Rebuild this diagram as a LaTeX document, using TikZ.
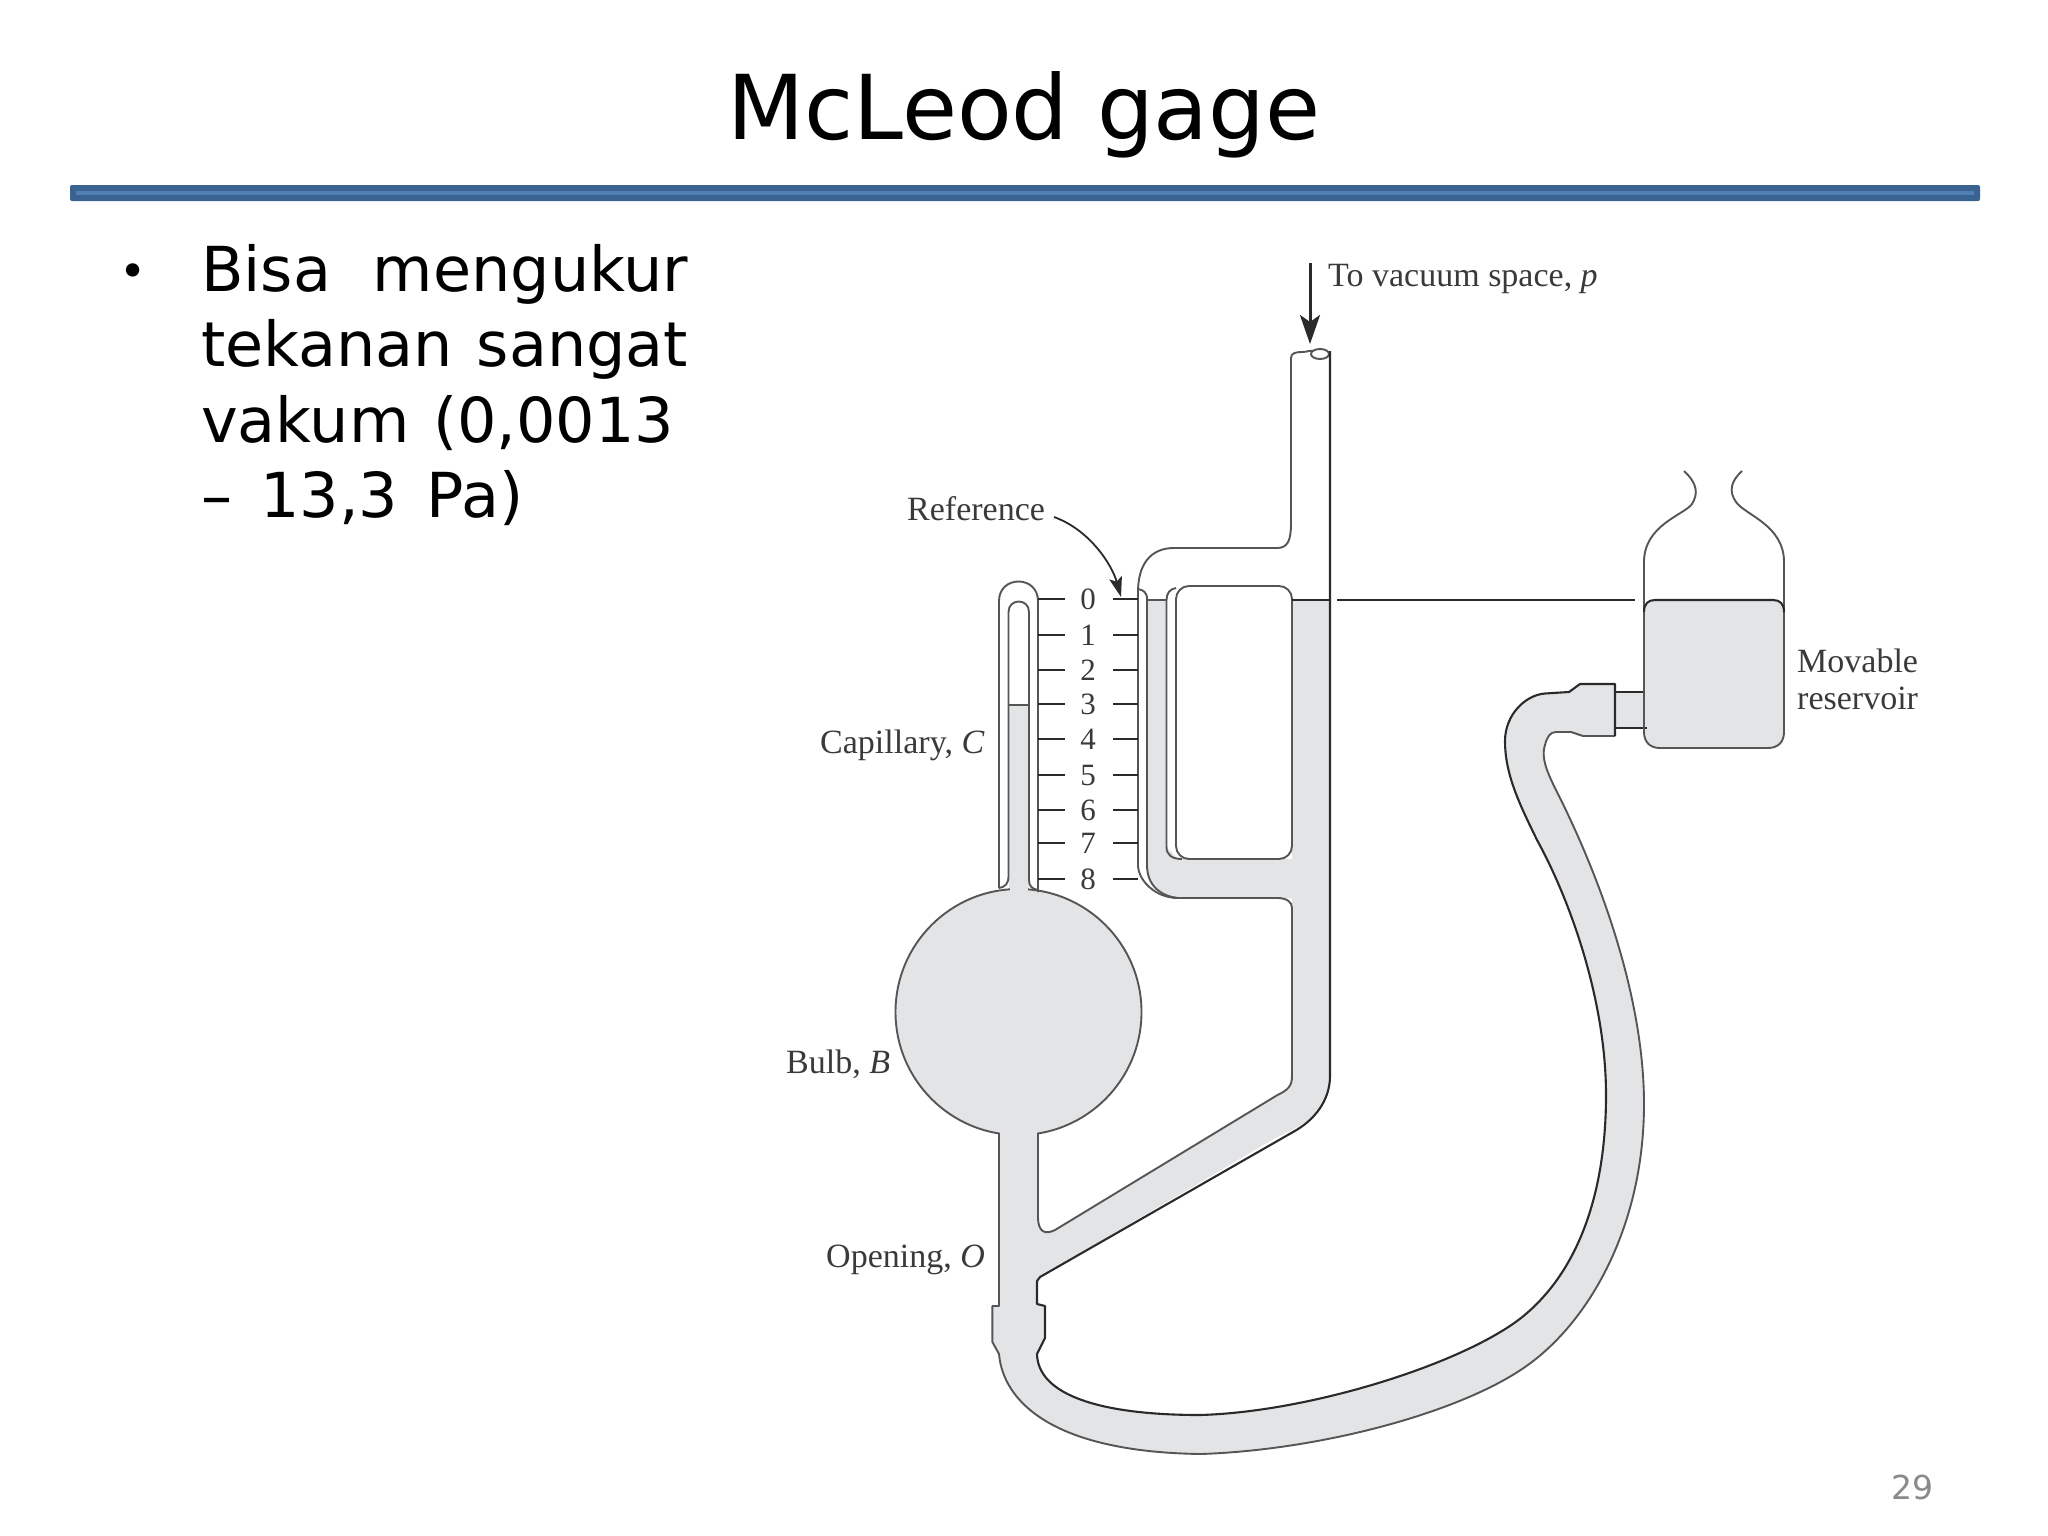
\documentclass[tikz,border=0pt]{standalone}
\usepackage{fontspec}
\setmainfont{Liberation Serif}
\newfontfamily\slidefont{DejaVu Sans}
\usetikzlibrary{arrows.meta}
\definecolor{merc}{HTML}{E3E4E6}
\definecolor{wall}{HTML}{555555}
\definecolor{darkwall}{HTML}{2A2A2A}
\definecolor{labelink}{HTML}{3A3A3A}
\definecolor{barouter}{HTML}{3B6392}
\definecolor{barinner}{HTML}{4F7FB5}
\definecolor{pagenum}{HTML}{8A8A8A}
\tikzset{
  glass/.style={draw=wall,line width=1.9pt,line join=round},
  darkglass/.style={draw=darkwall,line width=2.1pt,line join=round},
  hg/.style={fill=merc,draw=none},
  scaletick/.style={draw=darkwall,line width=2.2pt},
  lab/.style={anchor=base west,inner sep=0pt,text=labelink,font=\fontsize{34pt}{37pt}\selectfont},
  digit/.style={anchor=center,inner sep=0pt,text=labelink,font=\fontsize{31pt}{34pt}\selectfont},
  body/.style={anchor=base west,inner sep=0pt,text=black,font=\slidefont\fontsize{62pt}{75pt}\selectfont},
}
\newcommand{\OuterHose}{(999,1354) .. controls (1003,1400) and (1050,1452) .. (1201,1454) .. controls (1320,1450) and (1459,1413) .. (1525,1367) .. controls (1590,1322) and (1644,1225) .. (1644,1104) .. controls (1644,1010) and (1610,900) .. (1561,800) .. controls (1550,778) and (1540,760) .. (1545,745) .. controls (1547,737) and (1550,732) .. (1556,732)}
\newcommand{\InnerHose}{(1037,1354) .. controls (1038,1395) and (1100,1415) .. (1200,1415) .. controls (1310,1412) and (1462,1364) .. (1521,1318) .. controls (1580,1271) and (1606,1190) .. (1606,1095) .. controls (1606,1000) and (1570,900) .. (1537,840) .. controls (1520,805) and (1505,775) .. (1505,741) .. controls (1505,715) and (1525,695) .. (1545,693.5)}
\newcommand{\InnerHoseRev}{(1545,693.5) .. controls (1525,695) and (1505,715) .. (1505,741) .. controls (1505,775) and (1520,805) .. (1537,840) .. controls (1570,900) and (1606,1000) .. (1606,1095) .. controls (1606,1190) and (1580,1271) .. (1521,1318) .. controls (1462,1364) and (1310,1412) .. (1200,1415) .. controls (1100,1415) and (1038,1395) .. (1037,1354)}
\begin{document}
\begin{tikzpicture}[x=1pt,y=-1pt]
\useasboundingbox (0,0) rectangle (2048,1536);
\fill[white] (0,0) rectangle (2048,1536);

% heading and rule
\node[anchor=base,inner sep=0pt,font=\slidefont\fontsize{89.5pt}{95pt}\selectfont] (title) at (1024,140) {McLeod gage};
\fill[barouter,rounded corners=2pt] (70,185) rectangle (1980,201);
\fill[barinner] (76,191) rectangle (1974,195);

% bullet text
\node[body,font=\slidefont\fontsize{46pt}{50pt}\selectfont] (bullet) at (119,287) {•};
\node[body] (l1) at (201,291) {\hbox to 487pt{Bisa\hfil mengukur}};
\node[body] (l2) at (201,366) {\hbox to 487pt{tekanan\hfil sangat}};
\node[body] (l3) at (201,442) {\hbox to 473pt{vakum\hfil (0,0013}};
\node[body] (l4) at (201,517) {\hbox to 322pt{–\hfil 13,3\hfil Pa)}};
\node[anchor=center,inner sep=0pt,text=pagenum,font=\slidefont\fontsize{33pt}{36pt}\selectfont] (pg) at (1912,1487) {29};

% mercury fills
\fill[hg] (1008.5,705) rectangle (1029,900);
\fill[hg] (1018.5,1012) circle[radius=123pt];
\fill[hg] (999,1125) -- (999,1306) -- (992.4,1306) -- (992.4,1342) -- (999,1354) -- (1037,1354) -- (1045,1338) -- (1045,1306) -- (1037,1304) -- (1037,1281) -- (1040,1277) -- (1270,1141) .. controls (1285,1132) and (1330,1120) .. (1330,1076) -- (1292,1076) .. controls (1292,1086) and (1288,1090) .. (1277.5,1095) -- (1055,1230) .. controls (1045,1235) and (1038,1232) .. (1038,1217) -- (1038,1125) -- cycle;
\fill[hg] (1292,600) rectangle (1330,1080);
\fill[hg] (1147,599) -- (1166.5,599) -- (1166.5,847) -- (1178,859) -- (1292,859) -- (1292,898) -- (1178,898) .. controls (1160,896) and (1147,885) .. (1147,865) -- cycle;
\fill[hg] \OuterHose -- (1571,732) -- (1583,736) -- (1615,736) -- (1615,684) -- (1580,684) -- (1569,692) -- \InnerHoseRev -- cycle;
\fill[hg] (1615,692) rectangle (1650,728);
\fill[hg,rounded corners=14pt] (1644,600) rectangle (1784,748);

% capillary
\draw[glass] (999,888) -- (999,601) .. controls (999,575) and (1038,575) .. (1038,601) -- (1038,892);
\draw[glass] (999,888) .. controls (1005,887) and (1008.5,884) .. (1008.5,876) -- (1008.5,612) .. controls (1008.5,598) and (1029,598) .. (1029,612) -- (1029,880) .. controls (1029,886) and (1032,889) .. (1038,890);
\draw[glass] (1008.5,705) -- (1029,705);

% bulb
\draw[glass] (1018.5,1012) circle[radius=123pt];
\fill[hg] (1009.8,884) rectangle (1027.8,897);
\fill[hg] (1000,1122) rectangle (1037,1140);

% stem, diagonal and hose
\draw[glass] (999,1134) -- (999,1306) -- (992.4,1306) -- (992.4,1342) -- \OuterHose -- (1571,732) -- (1583,736) -- (1615,736);
\draw[glass] (1038,1134) -- (1038,1217) .. controls (1038,1232) and (1045,1235) .. (1055,1230) -- (1277.5,1095) .. controls (1288,1090) and (1292,1086) .. (1292,1076) -- (1292,908) .. controls (1292,902) and (1287,898) .. (1277,898) -- (1178,898) .. controls (1155,898) and (1138,880) .. (1138,865) -- (1138,592) .. controls (1138,565) and (1150,548) .. (1174,548) -- (1277,548) .. controls (1288,548) and (1291,540) .. (1291,523) -- (1291,358) .. controls (1291,353) and (1296,352) .. (1302,352) .. controls (1308,352) and (1309,350) .. (1314,351);
\draw[glass] (1320,354) ellipse[x radius=9pt,y radius=5pt];
\draw[darkglass] (1330,351) -- (1330,1076) .. controls (1330,1100) and (1315,1120) .. (1293,1132) -- (1040,1277) -- (1037,1281) -- (1037,1304) -- (1045,1306) -- (1045,1338) -- \InnerHose -- (1569,692) -- (1580,684) -- (1615,684) -- (1615,736);
\draw[darkglass] (1615,692) -- (1644,692) (1615,728) -- (1647,728);

% reference limb and closed loop
\draw[glass] (1138,589) .. controls (1143,590) and (1147,592) .. (1147,599) -- (1147,865) .. controls (1147,885) and (1160,896) .. (1178,898);
\draw[glass] (1166.5,600) .. controls (1166.5,593) and (1170,589) .. (1176,588);
\draw[glass] (1166.5,600) -- (1166.5,847) .. controls (1166.5,855) and (1172,859) .. (1182,859);
\draw[glass,rounded corners=13pt] (1176,586) rectangle (1292,859);
\draw[glass] (1147,600) -- (1166.5,600);
\draw[darkglass] (1292,600) -- (1330,600);

% movable reservoir
\draw[glass] (1684,471) .. controls (1698,484) and (1698,494) .. (1692,504) .. controls (1684,515) and (1644,525) .. (1644,562) -- (1644,732) .. controls (1644,742) and (1650,748) .. (1660,748) -- (1768,748) .. controls (1778,748) and (1784,742) .. (1784,732) -- (1784,562) .. controls (1784,525) and (1745,515) .. (1736,502) .. controls (1729,492) and (1730,482) .. (1742,471);
\draw[darkglass] (1644,612) .. controls (1644,604) and (1648,600) .. (1655,600) -- (1773,600) .. controls (1780,600) and (1784,604) .. (1784,612);
\coordinate (levelL) at (1337,600);
\coordinate (levelR) at (1635,600);
\draw[darkglass] (levelL) -- (levelR);

% scale ticks and digits
\foreach \name/\txt/\yy in {d0/0/599,d1/1/635,d2/2/670,d3/3/704,d4/4/739,d5/5/775,d6/6/810,d7/7/843,d8/8/879}{
  \node[digit] (\name) at (1088,\yy) {\txt};
  \draw[scaletick] (1038,\yy) -- (1065,\yy);
  \draw[scaletick] (1113,\yy) -- (1138,\yy);
}

% labels
\node[lab] (tovac) at (1328,286) {To vacuum space, \textit{p}};
\node[lab] (refl) at (907,520) {Reference};
\node[lab] (capl) at (820,753) {Capillary, \textit{C}};
\node[lab] (bulbl) at (786,1073) {Bulb, \textit{B}};
\node[lab] (openl) at (826,1267) {Opening, \textit{O}};
\node[lab] (movl) at (1797,672) {Movable};
\node[lab] (resl) at (1797,709) {reservoir};

% arrows
\coordinate (vacstart) at (1310,263);
\coordinate (vactip) at (1310,344);
\draw[darkwall,line width=3pt,-{Stealth[length=29pt,width=20pt,inset=7pt]}] (vacstart) -- (vactip);
\coordinate (refstart) at (1054,517);
\coordinate (reftip) at (1121,597);
\draw[darkwall,line width=1.8pt,-{Stealth[length=20pt,width=13pt,inset=4pt]}] (refstart) .. controls (1090,530) and (1112,565) .. (reftip);
\end{tikzpicture}
\end{document}
